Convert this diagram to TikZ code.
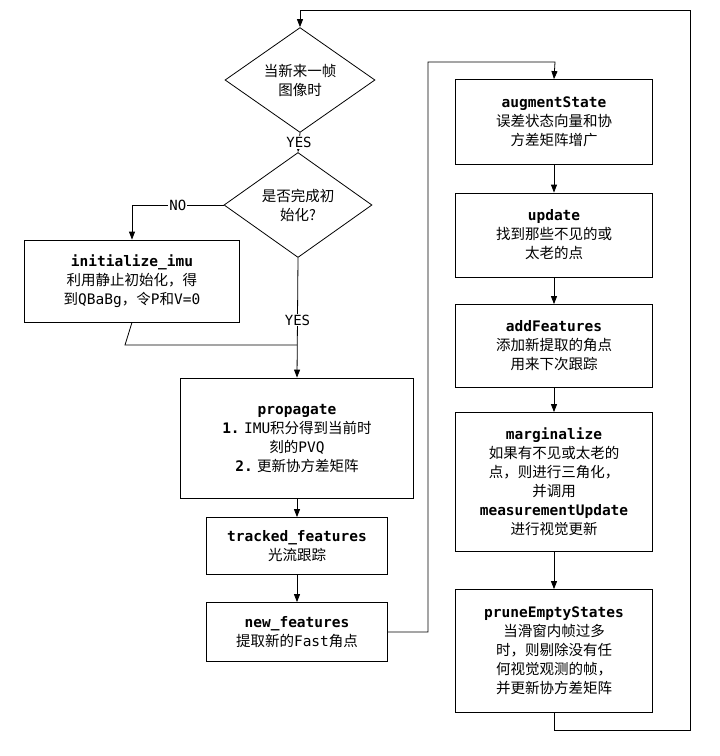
\documentclass[tikz,border=0pt]{standalone}
\usepackage{fontspec}
\setmainfont{DejaVu Sans Mono}
\newfontfamily\cjk{Noto Sans CJK SC}
\usetikzlibrary{shapes.geometric, arrows.meta, calc}
\tikzset{
  box/.style={draw, line width=0.8pt, align=center, font=\cjk\fontsize{14.5}{19}\selectfont, inner sep=2pt},
  dec/.style={draw, diamond, line width=0.8pt, align=center, font=\cjk\fontsize{14.5}{19}\selectfont},
  arr/.style={line width=0.8pt, -{Triangle[length=8pt,width=6pt]}},
  ln/.style={line width=0.8pt},
  lbl/.style={font=\fontsize{14}{16}\selectfont, fill=white, inner sep=1pt}
}
\newcommand{\ttl}[1]{{\bfseries\rmfamily #1}}
\newcommand{\lat}[1]{{\rmfamily #1}}
\begin{document}
\begin{tikzpicture}[x=1pt,y=-1pt]
\useasboundingbox (0,0) rectangle (720,756);
\node[dec, minimum width=150, minimum height=80, inner sep=0pt] (d1) at (300,80) {当新来一帧\\图像时};
\node[dec, minimum width=148, minimum height=80, inner sep=0pt] (d2) at (298,205) {是否完成初\\始化?};
\node[box, minimum width=215, minimum height=82] (init) at (132,281) {\ttl{initialize\_imu}\\利用静止初始化，得\\到\lat{QBaBg}，令\lat{P}和\lat{V=0}};
\node[box, minimum width=233, minimum height=120] (prop) at (297,438) {\ttl{propagate}\\\ttl{1.} \lat{IMU}积分得到当前时\\刻的\lat{PVQ}\\\ttl{2.} 更新协方差矩阵};
\node[box, minimum width=181, minimum height=57] (track) at (297,546) {\ttl{tracked\_features}\\光流跟踪};
\node[box, minimum width=181, minimum height=59] (newf) at (297,632) {\ttl{new\_features}\\提取新的\lat{Fast}角点};
\node[box, minimum width=197, minimum height=85] (aug) at (554,122) {\ttl{augmentState}\\误差状态向量和协\\方差矩阵增广};
\node[box, minimum width=197, minimum height=84] (upd) at (554,235) {\ttl{update}\\找到那些不见的或\\太老的点};
\node[box, minimum width=197, minimum height=83] (add) at (554,346) {\ttl{addFeatures}\\添加新提取的角点\\用来下次跟踪};
\node[box, minimum width=197, minimum height=139] (marg) at (554,482) {\ttl{marginalize}\\如果有不见或太老的\\点，则进行三角化，\\并调用\\\ttl{measurementUpdate}\\进行视觉更新};
\node[box, minimum width=197, minimum height=123] (prune) at (554,651) {\ttl{pruneEmptyStates}\\当滑窗内帧过多\\时，则剔除没有任\\何视觉观测的帧，\\并更新协方差矩阵};
\coordinate (j1) at (125,345);
\draw[arr] (d1.south) -- node[lbl]{YES} (d2.north);
\draw[arr] (d2.west) -- node[lbl]{NO} (d2.west -| init.north) -- (init.north);
\draw[arr] (d2.south) -- node[lbl, pos=0.52]{YES} (prop.north);
\draw[ln] (init.south) -- (j1) -- (j1 -| prop.north);
\draw[arr] (prop.south) -- (track.north);
\draw[arr] (track.south) -- (newf.north);
\draw[arr] (newf.east) -- ++(40,0) |- (555,62) -- (aug.north);
\draw[arr] (aug.south) -- (upd.north);
\draw[arr] (upd.south) -- (add.north);
\draw[arr] (add.south) -- (marg.north);
\draw[arr] (marg.south) -- (prune.north);
\draw[arr] (prune.south) -- ++(0,17) -| (690,10) -| (d1.north);
\end{tikzpicture}
\end{document}
